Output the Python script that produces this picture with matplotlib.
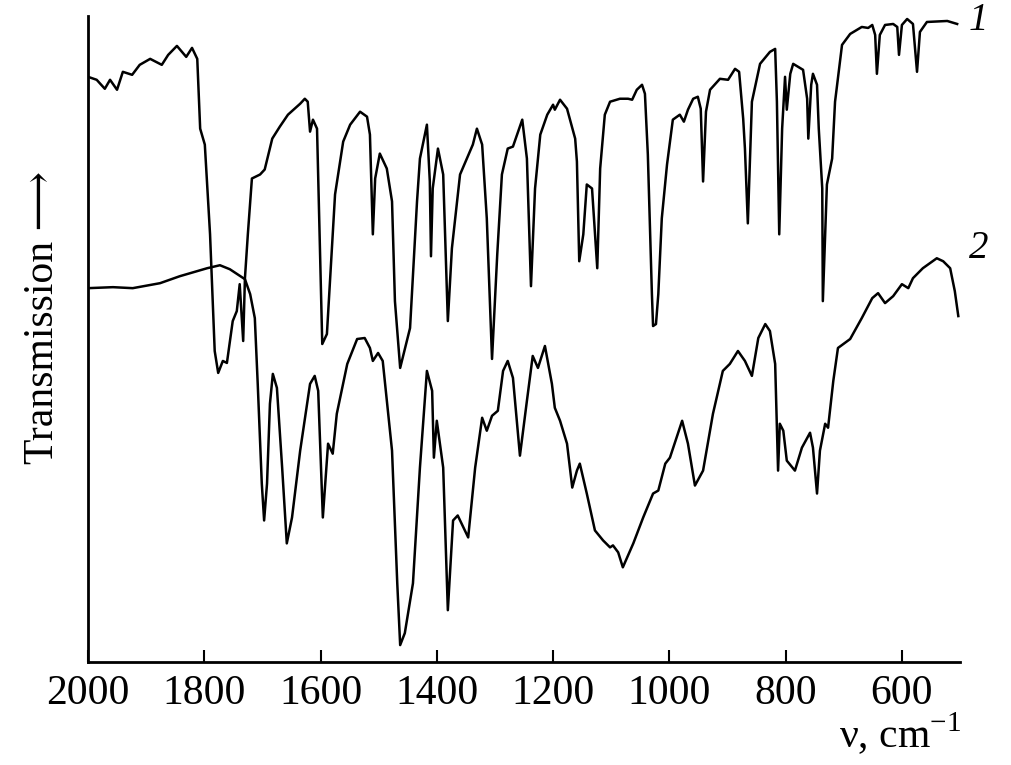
import numpy as np
import matplotlib.pyplot as plt

plt.rcParams['font.family'] = ['Liberation Serif', 'DejaVu Serif', 'DejaVu Sans']
plt.rcParams['mathtext.fontset'] = 'custom'
plt.rcParams['mathtext.rm'] = 'Liberation Serif'

# spectrum 1 (wavenumber, transmission in arbitrary units)
wn1 = [2000, 1985, 1971, 1962, 1950, 1940, 1924, 1911, 1893, 1873, 1862, 1847, 1831, 1821, 1812,
       1807, 1799, 1790, 1782, 1776, 1768, 1761, 1751, 1744, 1739, 1733, 1730, 1725, 1718, 1704,
       1696, 1683, 1670, 1656, 1635, 1627, 1622, 1618, 1613, 1606, 1597, 1589, 1575, 1561, 1549,
       1532, 1520, 1515, 1510, 1506, 1498, 1486, 1477, 1472, 1463, 1446, 1434, 1429, 1417, 1412,
       1410, 1407, 1398, 1389, 1381, 1374, 1360, 1343, 1338, 1331, 1322, 1314, 1305, 1296, 1288,
       1278, 1269, 1253, 1245, 1238, 1231, 1222, 1210, 1200, 1197, 1188, 1176, 1162, 1159, 1155,
       1148, 1142, 1133, 1124, 1119, 1111, 1102, 1085, 1071, 1064, 1056, 1047, 1042, 1037, 1030,
       1028, 1023, 1019, 1013, 1004, 994, 982, 975, 968, 959, 951, 946, 942, 937, 930,
       913, 899, 887, 880, 873, 870, 865, 858, 844, 827, 818, 815, 811, 806, 801,
       798, 792, 787, 770, 763, 761, 756, 753, 746, 743, 737, 736, 729, 720, 715,
       703, 689, 669, 658, 651, 646, 643, 638, 629, 615, 608, 605, 600, 591, 581,
       574, 569, 557, 522, 505]
t1 = [587, 584, 575, 584, 574, 592, 589, 599, 605, 599, 609, 618, 607, 616, 605,
      535, 519, 429, 312, 290, 302, 300, 342, 352, 379, 322, 385, 429, 485, 489,
      494, 525, 537, 549, 560, 565, 562, 532, 544, 535, 319, 329, 469, 522, 539,
      552, 547, 529, 429, 485, 510, 495, 462, 362, 295, 335, 462, 505, 539, 482,
      407, 475, 515, 489, 342, 415, 489, 512, 519, 535, 519, 445, 304, 409, 489,
      515, 517, 544, 505, 377, 475, 529, 549, 559, 554, 564, 555, 525, 502, 402,
      429, 479, 475, 395, 495, 549, 562, 565, 565, 564, 574, 579, 570, 509, 369,
      337, 339, 369, 445, 499, 544, 549, 542, 554, 565, 567, 555, 482, 552, 574,
      585, 584, 595, 592, 545, 515, 440, 562, 600, 612, 615, 562, 429, 535, 587,
      554, 590, 600, 594, 565, 525, 579, 590, 579, 535, 475, 362, 479, 505, 562,
      619, 630, 637, 636, 639, 629, 590, 629, 639, 640, 637, 609, 639, 645, 640,
      592, 632, 642, 643, 640]

# spectrum 2
wn2 = [2000, 1957, 1923, 1876, 1842, 1795, 1773, 1756, 1730, 1721, 1713, 1708, 1701, 1697, 1692,
       1687, 1682, 1675, 1666, 1658, 1649, 1635, 1618, 1610, 1604, 1596, 1587, 1579, 1572, 1554,
       1537, 1524, 1515, 1510, 1501, 1493, 1477, 1468, 1463, 1455, 1441, 1429, 1417, 1408, 1405,
       1400, 1389, 1381, 1372, 1364, 1346, 1334, 1322, 1314, 1305, 1295, 1286, 1278, 1269, 1257,
       1245, 1235, 1226, 1214, 1202, 1197, 1188, 1176, 1167, 1159, 1154, 1142, 1128, 1114, 1102,
       1097, 1088, 1080, 1062, 1045, 1028, 1019, 1007, 999, 978, 968, 956, 942, 925, 908,
       896, 882, 870, 858, 847, 835, 827, 818, 813, 810, 804, 798, 784, 772, 758,
       753, 746, 741, 732, 727, 718, 710, 689, 669, 651, 641, 629, 615, 600, 589,
       581, 564, 540, 529, 517, 509, 503]
t2 = [375, 376, 375, 380, 387, 395, 398, 394, 384, 369, 345, 279, 179, 142, 179,
      259, 289, 275, 195, 119, 145, 212, 279, 287, 272, 145, 219, 209, 249, 299,
      324, 325, 315, 302, 310, 302, 212, 79, 17, 29, 79, 195, 292, 272, 205,
      242, 195, 52, 142, 147, 125, 195, 245, 232, 247, 252, 292, 302, 285, 207,
      262, 307, 295, 317, 279, 255, 242, 219, 175, 192, 199, 169, 132, 122, 115,
      117, 110, 95, 119, 145, 169, 172, 199, 205, 242, 219, 177, 192, 249, 292,
      299, 312, 302, 287, 325, 339, 332, 299, 192, 239, 232, 202, 192, 215, 230,
      215, 169, 212, 239, 235, 282, 315, 324, 345, 365, 370, 360, 367, 379, 375,
      385, 395, 405, 402, 395, 372, 347]

xticks = [2000, 1800, 1600, 1400, 1200, 1000, 800, 600]

fig = plt.figure(figsize=(10.11, 7.65), dpi=100)
ax = fig.add_axes([0.087, 0.1346, 0.8626, 0.8445])

ax.plot(wn1, t1, color='black', lw=1.8, solid_joinstyle='round')
ax.plot(wn2, t2, color='black', lw=1.8, solid_joinstyle='round')

ax.set_xlim(2000, 500)
ax.set_ylim(0, 648)
ax.set_xticks(xticks)
ax.set_xticklabels([str(v) for v in xticks])
ax.set_yticks([])
ax.tick_params(axis='x', direction='in', length=9, width=1.5, pad=9, labelsize=30)
for s in ['top', 'right']:
    ax.spines[s].set_visible(False)
for s in ['left', 'bottom']:
    ax.spines[s].set_linewidth(2)

ax.set_ylabel('Transmission \u27f6', fontsize=30)
ax.yaxis.set_label_coords(-0.030, 0.533)
fig.text(0.951, 0.022, r'ν, cm$^{\mathregular{-1}}$', fontsize=30, ha='right', va='baseline')
ax.text(1.01, 0.993, '1', transform=ax.transAxes, fontsize=28, style='italic', ha='left', va='center')
ax.text(1.01, 0.64, '2', transform=ax.transAxes, fontsize=28, style='italic', ha='left', va='center')

fig.savefig('out.png', dpi=100)
